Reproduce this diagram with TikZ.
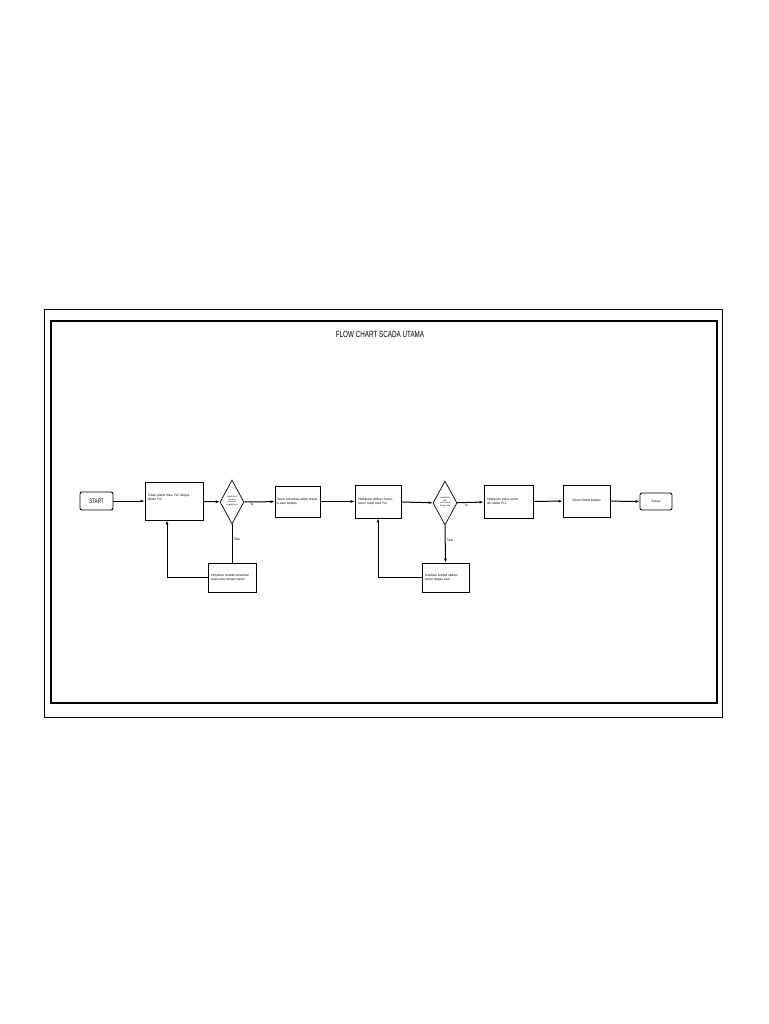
\documentclass[tikz,border=0pt]{standalone}
\usepackage{fontspec}
\setmainfont{Liberation Sans}[FakeStretch=0.8]
\newfontfamily\sempit{Liberation Sans}[FakeStretch=0.7]
\usetikzlibrary{shapes.geometric,arrows.meta}

\begin{document}
\begin{tikzpicture}[x=1pt,y=-1pt,
    kotak/.style={draw, line width=0.9pt, inner sep=2pt, align=left,
                  font=\fontsize{3.3}{4}\selectfont},
    ujung/.style={draw, line width=0.9pt, rounded corners=2pt, align=center},
    cek/.style={draw, diamond, line width=0.7pt, inner sep=0pt,
                minimum width=24, minimum height=44, align=center,
                font=\fontsize{2.1}{2.5}\selectfont},
    panah/.style={line width=1pt, -{Latex[length=4pt,width=3pt]}},
    garis/.style={line width=1pt},
    kecil/.style={font=\fontsize{3.3}{3.8}\selectfont, inner sep=1pt}]
  \useasboundingbox (0,0) rectangle (768,1024);
  \draw [line width=0.8pt]  (44,309) rectangle (722,717);          %bingkai luar
  \draw [line width=1.2pt]  (51,321) rectangle (717,703);          %bingkai dalam
  \node (judul) at (380,334) {\sempit\fontsize{9}{10}\selectfont FLOW CHART SCADA UTAMA};
  % baris utama
  \node [ujung, minimum width=33, minimum height=18, font=\sempit\fontsize{6.5}{7}\selectfont]
        (start) at (96.5,501) {START};
  \node [kotak, minimum width=58, minimum height=38, text width=52]
        (inisiasi) at (174,501) {Inisiasi Alamat Slave PLC dengan\\Master PLC\\[3pt]\mbox{}};
  \node [cek] (cek1) at (232,502) {Apakah slave\\terhubung\\komunikasi\\dengan master\\?};
  \node [kotak, minimum width=45, minimum height=31, text width=41, inner sep=1.5pt]
        (sistem) at (297.5,501.5) {Sistem komunikasi antara master\\\& slave berjalan};
  \node [kotak, minimum width=46, minimum height=33, text width=40]
        (baca) at (378,501.5) {Pembacaan address Sensor-\\sensor setiap slave PLC};
  \node [cek] (cek2) at (445,503) {Apakah data\\addr.\\sensor sesuai\\dengan slave\\?};
  \node [kotak, minimum width=49, minimum height=33, text width=43]
        (status) at (508.5,501.5) {Pembacaan status sensor\\dari Master PLC};
  \node [kotak, minimum width=47, minimum height=32, align=center]
        (seluruh) at (586.5,501) {Seluruh Sistem berjalan};
  \node [ujung, minimum width=32, minimum height=17, font=\fontsize{3.3}{4}\selectfont]
        (selesai) at (656,501.5) {Selesai};
  % kotak umpan balik
  \node [kotak, minimum width=48, minimum height=29, text width=42]
        (setel) at (232,577.5) {Penyetelan kembali komunikasi\\antara slave dengan master};
  \node [kotak, minimum width=47, minimum height=29, text width=41]
        (ulang) at (445.5,577.5) {Inisialisasi kembali address\\sensor dengan slave};
  % penghubung
  \draw [panah] (start) -- (inisiasi);
  \draw [panah] (inisiasi) -- (cek1);
  \draw [panah] (cek1) -- node [kecil, pos=0.25, below] {Ya} (sistem);
  \draw [panah] (sistem) -- (baca);
  \draw [panah] (baca) -- (cek2);
  \draw [panah] (cek2) -- node [kecil, pos=0.35, below] {Ya} (status);
  \draw [panah] (status) -- (seluruh);
  \draw [panah] (seluruh) -- (selesai);
  \draw [garis] (cek1.south) -- node [kecil, pos=0.4, right] {Tidak} (setel.north);
  \draw [panah] (cek2.south) -- node [kecil, pos=0.4, right] {Tidak} (ulang.north);
  \draw [panah] (setel.west) -| ([xshift=-7pt]inisiasi.south);
  \draw [panah] (ulang.west) -| (baca.south);
\end{tikzpicture}
\end{document}
